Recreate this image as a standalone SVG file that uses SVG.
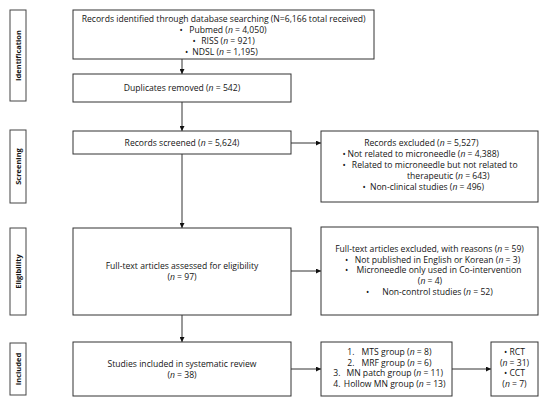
<svg xmlns="http://www.w3.org/2000/svg" width="550" height="405" viewBox="0 0 550 405">
<defs>
<marker id="ah" markerWidth="5" markerHeight="5" refX="5" refY="2.5" orient="auto" markerUnits="userSpaceOnUse">
<path d="M0,0 L5,2.5 L0,5 z" fill="#111"/>
</marker>
<style>
.box{fill:#fff;stroke:#333;stroke-width:1}
.lab{fill:#fff;stroke:#444;stroke-width:1}
text{font-family:"Open Sans","Noto Sans",sans-serif;font-size:8.6px;fill:#141414}
.m{text-anchor:middle}
.s{text-anchor:start}
.i{font-style:italic}
.lt{font-size:7.5px;font-weight:bold;text-anchor:middle}
.con{stroke:#333;stroke-width:1;fill:none;marker-end:url(#ah)}
</style>
</defs>
<rect width="550" height="405" fill="#fff"/>

<g id="label-identification"><rect class="lab" x="10" y="10" width="16" height="91"/><text class="lt" transform="translate(20.7,55.5) rotate(-90)">Identification</text></g>
<g id="label-screening"><rect class="lab" x="10" y="130" width="16" height="73"/><text class="lt" transform="translate(20.7,166.5) rotate(-90)">Screening</text></g>
<g id="label-eligibility"><rect class="lab" x="10" y="228" width="16" height="87"/><text class="lt" transform="translate(20.7,271.5) rotate(-90)">Eligibility</text></g>
<g id="label-included"><rect class="lab" x="10" y="343" width="16" height="52"/><text class="lt" transform="translate(20.7,369) rotate(-90)">Included</text></g>

<g id="connectors">
<line class="con" x1="182" y1="59" x2="182" y2="74"/>
<line class="con" x1="182" y1="102" x2="182" y2="131"/>
<line class="con" x1="182" y1="154" x2="182" y2="228"/>
<line class="con" x1="182" y1="315" x2="182" y2="342"/>
<line class="con" x1="291" y1="143" x2="321" y2="143"/>
<line class="con" x1="291" y1="271" x2="321" y2="271"/>
<line class="con" x1="291" y1="369" x2="321" y2="369"/>
<line class="con" x1="452" y1="369" x2="491" y2="369"/>
</g>

<g id="records-identified">
<rect class="box" x="73" y="10" width="301" height="49"/>
<text class="m" x="223.7" y="21.5">Records identified through database searching (N=6,166 total received)</text>
<text class="m" x="181" y="32.5">•</text><text class="m" x="228" y="32.5">Pubmed (<tspan class="i">n</tspan> = 4,050)</text>
<text class="m" x="194" y="43.5">•</text><text class="m" x="228" y="43.5">RISS (<tspan class="i">n</tspan> = 921)</text>
<text class="m" x="186.5" y="54.5">•</text><text class="m" x="225" y="54.5">NDSL (<tspan class="i">n</tspan> = 1,195)</text>
</g>

<g id="duplicates">
<rect class="box" x="73" y="74" width="218" height="28"/>
<text class="m" x="182" y="91">Duplicates removed (<tspan class="i">n</tspan> = 542)</text>
</g>

<g id="screened">
<rect class="box" x="73" y="131" width="218" height="23"/>
<text class="m" x="182" y="145.5">Records screened (<tspan class="i">n</tspan> = 5,624)</text>
</g>

<g id="records-excluded">
<rect class="box" x="321" y="131" width="217" height="71"/>
<text class="m" x="421.3" y="146">Records excluded (<tspan class="i">n</tspan> = 5,527)</text>
<text class="m" x="344" y="157">•</text><text class="m" x="423.3" y="157">Not related to microneedle (<tspan class="i">n</tspan> = 4,388)</text>
<text class="m" x="344" y="168">•</text><text class="m" x="434.7" y="168">Related to microneedle but not related to</text>
<text class="m" x="448.3" y="179">therapeutic (<tspan class="i">n</tspan> = 643)</text>
<text class="m" x="364" y="190">•</text><text class="m" x="427" y="190">Non-clinical studies (<tspan class="i">n</tspan> = 496)</text>
</g>

<g id="fulltext-assessed">
<rect class="box" x="73" y="228" width="218" height="87"/>
<text class="m" x="182" y="269">Full-text articles assessed for eligibility</text>
<text class="m" x="182" y="280">(<tspan class="i">n</tspan> = 97)</text>
</g>

<g id="fulltext-excluded">
<rect class="box" x="321" y="227" width="217" height="88"/>
<text class="m" x="429.5" y="252">Full-text articles excluded, with reasons (<tspan class="i">n</tspan> = 59)</text>
<text class="m" x="346.5" y="262.5">•</text><text class="m" x="437.5" y="262.5">Not published in English or Korean (<tspan class="i">n</tspan> = 3)</text>
<text class="m" x="346.5" y="273">•</text><text class="m" x="439" y="273">Microneedle only used in Co-intervention</text>
<text class="m" x="430" y="284">(<tspan class="i">n</tspan> = 4)</text>
<text class="m" x="367.5" y="294.5">•</text><text class="m" x="437.5" y="294.5">Non-control studies (<tspan class="i">n</tspan> = 52)</text>
</g>

<g id="studies-included">
<rect class="box" x="73" y="342" width="218" height="54"/>
<text class="m" x="182" y="367">Studies included in systematic review</text>
<text class="m" x="182" y="378">(<tspan class="i">n</tspan> = 38)</text>
</g>

<g id="groups">
<rect class="box" x="321" y="342" width="131" height="54"/>
<text class="s" x="347.3" y="355">1.</text><text class="m" x="396.5" y="355">MTS group (<tspan class="i">n</tspan> = 8)</text>
<text class="s" x="347.3" y="365.5">2.</text><text class="m" x="396.5" y="365.5">MRF group (<tspan class="i">n</tspan> = 6)</text>
<text class="s" x="333.3" y="376">3.</text><text class="m" x="394.7" y="376">MN patch group (<tspan class="i">n</tspan> = 11)</text>
<text class="s" x="333.3" y="386.5">4.</text><text class="m" x="394.7" y="386.5">Hollow MN group (<tspan class="i">n</tspan> = 13)</text>
</g>

<g id="design">
<rect class="box" x="491" y="342" width="47" height="54"/>
<text class="m" x="514.5" y="355">•  RCT</text>
<text class="m" x="514.5" y="365.5">(<tspan class="i">n</tspan> = 31)</text>
<text class="m" x="514.5" y="376">•  CCT</text>
<text class="m" x="514.5" y="386.5">(<tspan class="i">n</tspan> = 7)</text>
</g>
</svg>
